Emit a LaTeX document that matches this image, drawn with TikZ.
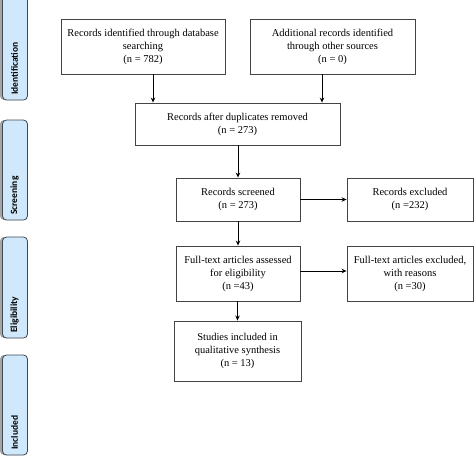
\documentclass[tikz,border=0pt]{standalone}
\usepackage{fontspec}
\setmainfont{Liberation Serif}
\newfontfamily\tabfont{Carlito}
\usetikzlibrary{arrows.meta}
\definecolor{tabblue}{HTML}{CFE8FB}
\definecolor{tabedge}{HTML}{3E4852}
\definecolor{boxedge}{HTML}{444444}
\begin{document}
\begin{tikzpicture}[x=1pt,y=1pt,
  box/.style={draw=boxedge,line width=0.9pt,fill=white,align=center,inner sep=2pt,
    font=\fontsize{10.5}{13}\selectfont},
  arr/.style={-{Stealth[length=5pt,width=4.5pt]},line width=0.9pt,black},
  tab/.style={draw=tabedge,fill=tabblue,rounded corners=4pt,line width=0.8pt},
  tabshadow/.style={fill=gray!70,rounded corners=4pt},
  tablabel/.style={rotate=90,anchor=west,inner sep=0pt,font=\tabfont\bfseries\fontsize{9.5}{10}\selectfont}]
\useasboundingbox (0,0) rectangle (474,-456);
% side tabs
\foreach \t/\b/\name/\lab in {-4/100/tI/Identification,120/220/tS/Screening,237/338/tE/Eligibility,355/455/tC/Included}{
  \fill[tabshadow] (0,-\t) rectangle (26,-\b);
  \draw[tab] (2.5,-\t) rectangle (27.5,-\b);
  \node[tablabel] (\name) at (14.5,-\b+5) {\lab};
}
% boxes
\node[box,minimum width=164,minimum height=55] (b1) at (143,-46.5)
  {Records identified through database\\searching\\(n = 782)};
\node[box,minimum width=165,minimum height=55] (b2) at (332.5,-46.5)
  {Additional records identified\\through other sources\\(n = 0)};
\node[box,minimum width=205,minimum height=42] (b3) at (237.5,-124)
  {Records after duplicates removed\\(n = 273)};
\node[box,minimum width=124,minimum height=43] (b4) at (238,-199.5)
  {Records screened\\(n = 273)};
\node[box,minimum width=126,minimum height=43] (b5) at (410,-199.5)
  {Records excluded\\(n =232)};
\node[box,minimum width=124,minimum height=55] (b6) at (238,-273.5)
  {Full-text articles assessed\\for eligibility\\(n =43)};
\node[box,minimum width=126,minimum height=55] (b7) at (410,-273.5)
  {Full-text articles excluded,\\with reasons\\(n =30)};
\node[box,minimum width=127,minimum height=60] (b8) at (237.5,-351)
  {Studies included in\\qualitative synthesis\\(n = 13)};
% connectors
\coordinate (c1) at (153,0);
\coordinate (c2) at (322,0);
\coordinate (c3) at (0,-271);
\draw[arr] (b1.south -| c1) -- (b3.north -| c1);
\draw[arr] (b2.south -| c2) -- (b3.north -| c2);
\draw[arr] (b3.south -| b4) -- (b4.north);
\draw[arr] (b4.east) -- (b5.west);
\draw[arr] (b4.south) -- (b6.north);
\draw[arr] (b6.east |- c3) -- (b7.west |- c3);
\draw[arr] (b6.south -| b8) -- (b8.north);
\end{tikzpicture}
\end{document}
